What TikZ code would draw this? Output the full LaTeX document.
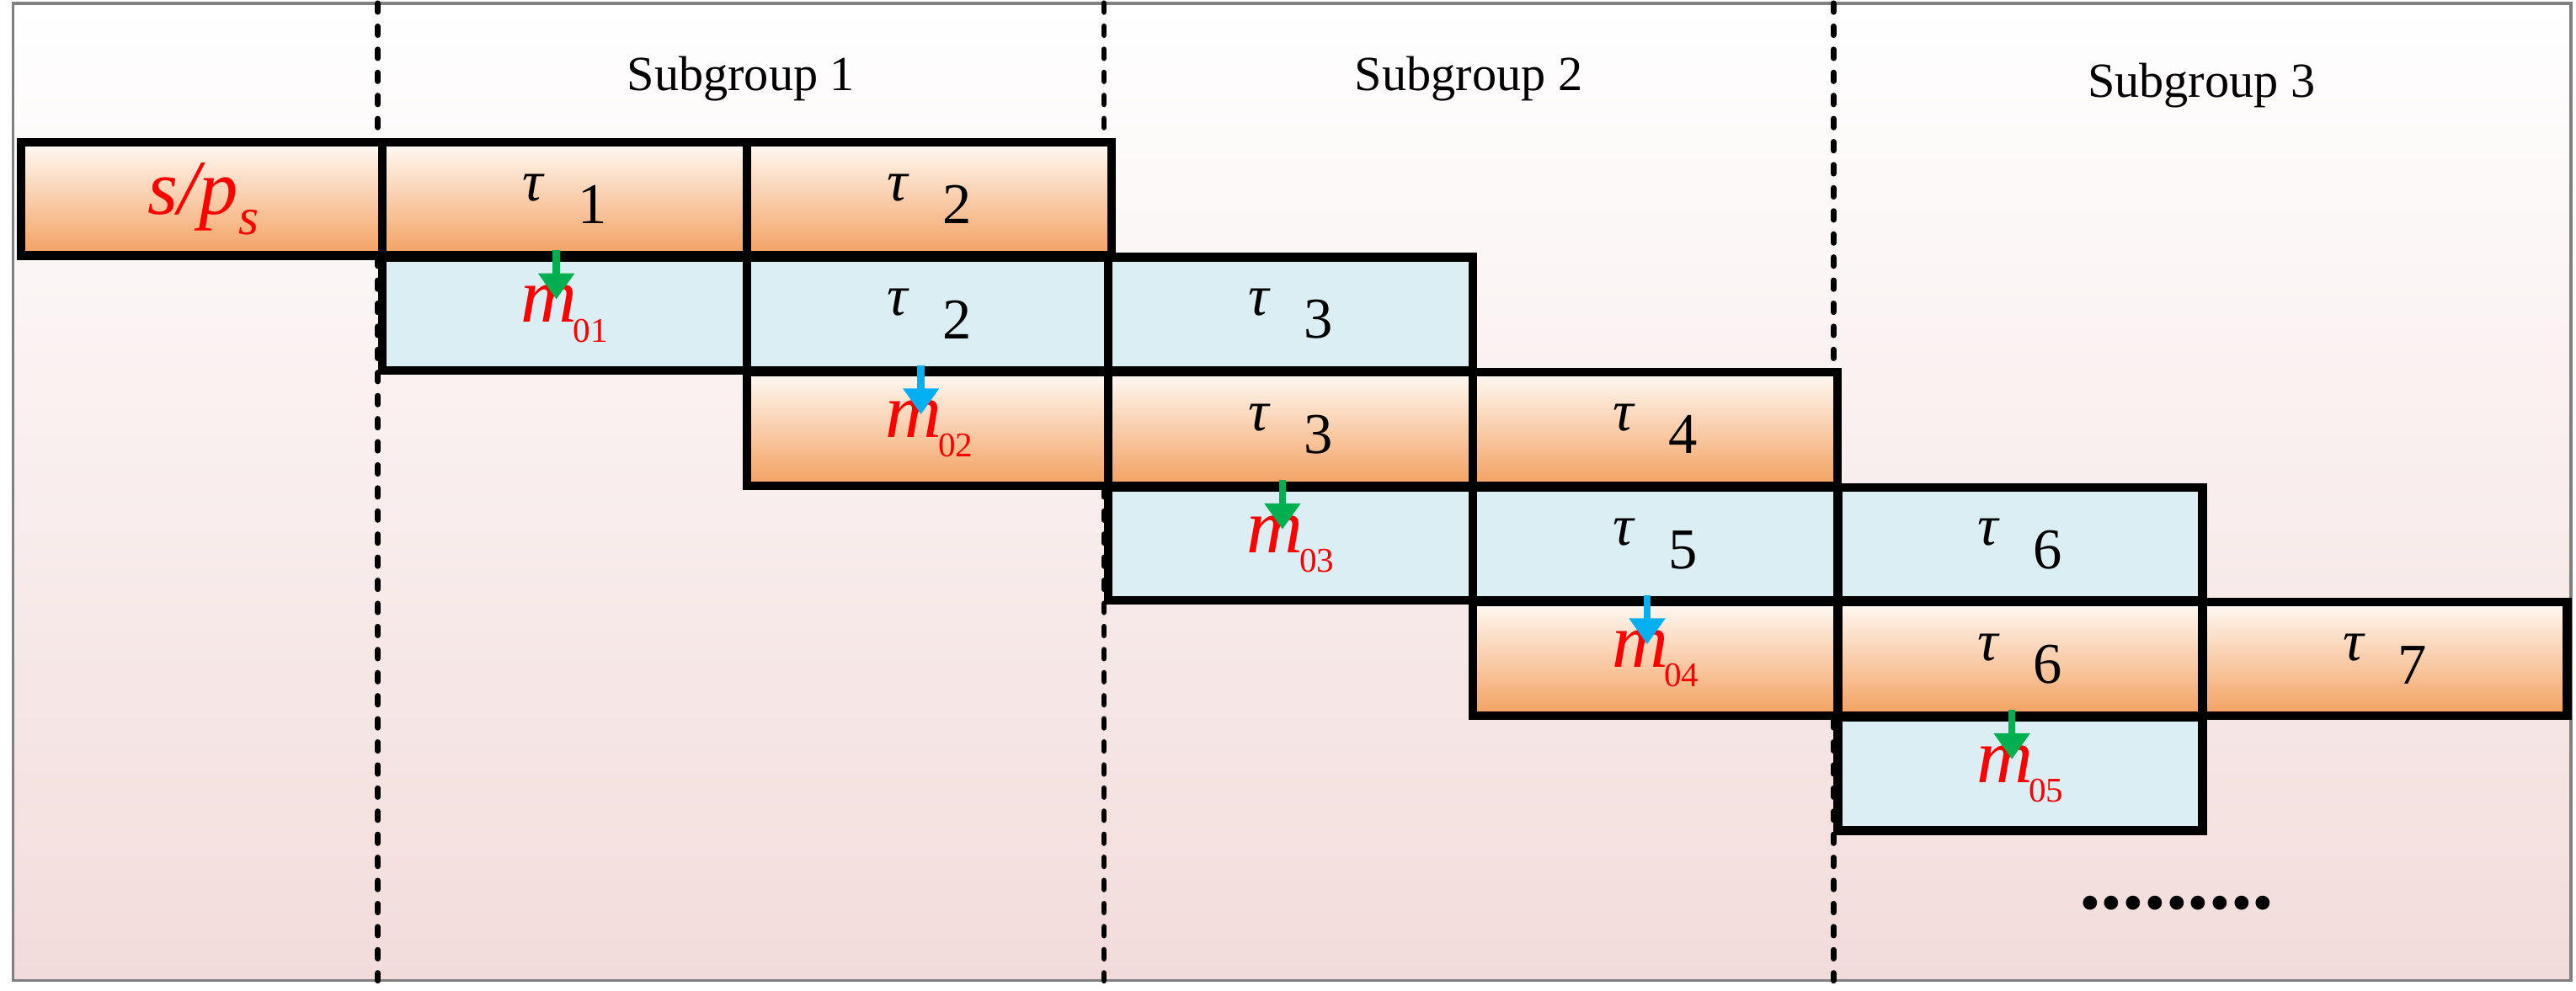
\documentclass[tikz,border=0pt]{standalone}
\usepackage{fontspec}
\setmainfont{Liberation Serif}
\begin{document}
\begin{tikzpicture}[x=0.02cm,y=-0.02cm,
 cell/.style={draw=black,line width=3pt,minimum width=4.44cm,minimum height=1.38cm,inner sep=0pt,anchor=north west,font=\fontsize{20}{20}\selectfont},
 org/.style={cell,top color=white!90!orange!40,bottom color={rgb,255:red,243;green,160;blue,96}},
 blu/.style={cell,fill={rgb,255:red,219;green,238;blue,244}},
 sg/.style={font=\fontsize{17}{17}\selectfont},
 arr/.style={line width=2.5pt,-{Triangle[length=9pt,width=12pt]}},
 grn/.style={arr,draw={rgb,255:red,0;green,176;blue,80}},
 bl/.style={arr,draw={rgb,255:red,0;green,176;blue,240}}]
\usetikzlibrary{arrows.meta}
\useasboundingbox (0,0) rectangle (1568,603);
\shade[top color=white,bottom color={rgb,255:red,242;green,220;blue,219}] (8,2) rectangle (1565,597);
\draw[gray,line width=1pt] (8,2) rectangle (1565,597);
\foreach \x in {230,672,1116} \draw[line width=2pt,dash pattern=on 3pt off 5pt,line cap=round] (\x,2) -- (\x,597);
\node[sg] (s1) at (451,48) {Subgroup 1};
\node[sg] (s2) at (894,48) {Subgroup 2};
\node[sg] (s3) at (1340,52) {Subgroup 3};
\newcommand{\tl}[1]{{\itshape τ}\hspace{0.6em}\raisebox{-0.4em}{#1}}
\newcommand{\ml}[1]{\textcolor{red}{\fontsize{27}{27}\selectfont\itshape m\hspace{-0.05em}\raisebox{-0.25em}{\fontsize{12}{12}\selectfont\upshape #1}}}
% row 1
\node[org] (sp) at (10,84) {\textcolor{red}{\fontsize{27}{27}\selectfont\itshape s/p\raisebox{-0.25em}{\fontsize{18}{18}\selectfont s}}};
\node[org] (a1) at (230,84) {\tl{1}};
\node[org] (a2) at (452,84) {\tl{2}};
% row 2
\node[blu] (b1) at (230,154) {\ml{01}};
\node[blu] (b2) at (452,154) {\tl{2}};
\node[blu] (b3) at (672,154) {\tl{3}};
% row 3
\node[org] (c1) at (452,224) {\ml{02}};
\node[org] (c2) at (672,224) {\tl{3}};
\node[org] (c3) at (894,224) {\tl{4}};
% row 4
\node[blu] (d1) at (672,294) {\ml{03}};
\node[blu] (d2) at (894,294) {\tl{5}};
\node[blu] (d3) at (1116,294) {\tl{6}};
% row 5
\node[org] (e1) at (894,364) {\ml{04}};
\node[org] (e2) at (1116,364) {\tl{6}};
\node[org] (e3) at (1338,364) {\tl{7}};
% row 6
\node[blu] (f1) at (1116,434) {\ml{05}};
% arrows
\draw[grn] ([xshift=-0.1cm]a1.south) ++(0,-6) coordinate (ga) -- ++(0,30);
\draw[bl] ([xshift=-0.1cm]b2.south) ++(0,-6) -- ++(0,30);
\draw[grn] ([xshift=-0.1cm]c2.south) ++(0,-6) -- ++(0,30);
\draw[bl] ([xshift=-0.1cm]d2.south) ++(0,-6) -- ++(0,30);
\draw[grn] ([xshift=-0.1cm]e2.south) ++(0,-6) -- ++(0,30);
\node[font=\fontsize{30}{30}\selectfont\bfseries] (dots) at (1325,550) {.........};
\end{tikzpicture}
\end{document}
